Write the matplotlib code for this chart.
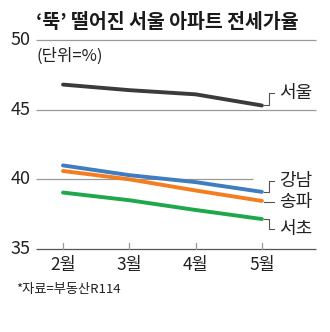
import matplotlib
matplotlib.use("Agg")
import matplotlib.pyplot as plt

months = ["2월", "3월", "4월", "5월"]
series_names = ["서울", "강남", "송파", "서초"]
seoul = [46.8, 46.4, 46.1, 45.3]
gangnam = [41.0, 40.3, 39.8, 39.1]
songpa = [40.6, 40.0, 39.2, 38.45]
seocho = [39.05, 38.5, 37.8, 37.15]
yticks = [35, 40, 45, 50]
colors = ["#3b3b3b", "#3f7cc0", "#f47d20", "#1ea84b"]

W, H = 330, 332
fig = plt.figure(figsize=(W / 100, H / 100), dpi=100)
fig.patch.set_facecolor("white")
L, R, T, B = 36, 316, 40, 249
ax = fig.add_axes([L / W, 1 - B / H, (R - L) / W, (B - T) / H])
x0px, dx = 63, 66.3
ax.set_xlim((L - x0px) / dx, (R - x0px) / dx)
ax.set_ylim(35, 50)
ax.axis("off")

kfont = ["Noto Sans CJK KR", "DejaVu Sans"]
nfont = ["Liberation Sans Narrow", "Noto Sans CJK KR", "DejaVu Sans"]
grid_c = "#9a9a9a"
xl, xr = ax.get_xlim()

# gridlines
for v in yticks:
    right = xr if v != 40 else (253 - x0px) / dx
    ax.plot([xl, right], [v, v], color=grid_c if v != 35 else "#555555",
            lw=0.9, solid_capstyle="butt", clip_on=False, zorder=1)
    ax.text(-5.5 / (R - L), v, str(v), transform=ax.get_yaxis_transform(),
            ha="right", va="center", fontsize=13, family=nfont, color="#222222")

# ticks
xs = list(range(len(months)))
for i, m in enumerate(months):
    ax.plot([i, i], [35, 35 + 6 / 13.93], color=grid_c, lw=0.9, clip_on=False)
    ax.text(i, 35 - 16 / 13.93, m, ha="center", va="center", fontsize=12.5,
            family=nfont, color="#222222")

data = [seoul, gangnam, songpa, seocho]
for vals, c in zip(data, colors):
    ax.plot(xs, vals, color=c, lw=2.8, solid_capstyle="round", zorder=3, clip_on=False)

# labels with connectors
ppu = 13.93
lx = 3 + 17 / dx
cx = 3 + 7 / dx
ex = 3 + 12 / dx
sx = 3 + 2 / dx
lab_y = [50 - (93 - 40) / ppu, 50 - (181 - 40) / ppu, 50 - (202 - 40) / ppu, 50 - (229 - 40) / ppu]
ends = [v[-1] for v in data]
conn_c = "#555555"
ax.plot([sx, cx, cx, ex], [ends[0], ends[0], lab_y[0], lab_y[0]], color=conn_c, lw=0.8, clip_on=False)
ax.plot([sx, cx, cx, ex], [ends[1], ends[1], lab_y[1], lab_y[1]], color=conn_c, lw=0.8, clip_on=False)
ax.plot([sx, ex], [lab_y[2], lab_y[2]], color=conn_c, lw=0.8, clip_on=False)
ax.plot([sx, cx, cx, ex], [ends[3], ends[3], lab_y[3], lab_y[3]], color=conn_c, lw=0.8, clip_on=False)
for name, y in zip(series_names, lab_y):
    ax.text(lx, y, name, ha="left", va="center", fontsize=13, family=kfont, color="#222222")

fig.text(L / W, 1 - 22 / H, "‘뚝’ 떨어진 서울 아파트 전세가율", ha="left", va="center",
         fontsize=14, fontweight="bold", family=kfont, color="#1a1a1a")
fig.text(L / W, 1 - 56 / H, "(단위=%)", ha="left", va="center",
         fontsize=12, family=kfont, color="#222222")
fig.text(16 / W, 1 - 290 / H, "*자료=부동산R114", ha="left", va="center",
         fontsize=9.5, family=nfont, color="#222222")

fig.savefig("out.png", dpi=100, facecolor="white")
